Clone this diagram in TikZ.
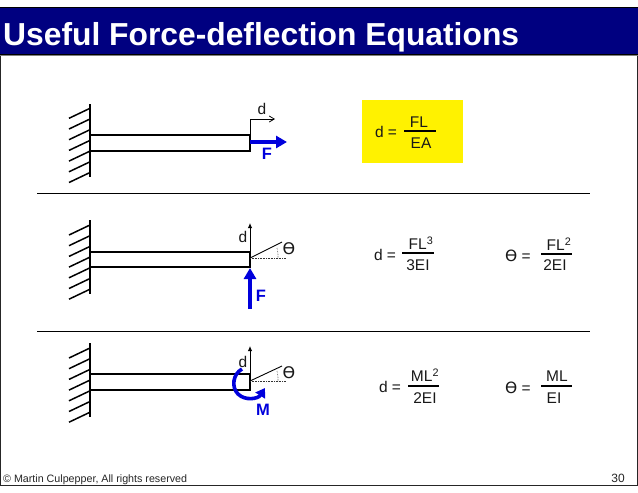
\documentclass[tikz,border=0pt]{standalone}
\usepackage{fontspec}
\setmainfont{Liberation Sans}
\newfontfamily\symfont{DejaVu Sans}
\usetikzlibrary{arrows.meta}
\definecolor{navy}{RGB}{0,0,128}
\definecolor{fblue}{RGB}{0,0,220}
\tikzset{
  x=1pt,y=-1pt,
  beamline/.style={line width=1.4pt,black},
  hatchline/.style={line width=1.5pt,black},
  defl/.style={line width=0.8pt,black,-{Straight Barb[length=5pt,width=6pt]}},
  deflup/.style={line width=0.9pt,black,-{Latex[length=5pt,width=4.5pt]}},
  force/.style={line width=3.2pt,fblue,-{Triangle[length=11pt,width=12pt]}},
  txt/.style={inner sep=0pt,font=\fontsize{15.5}{17}\selectfont,text=black!90},
  thetatxt/.style={inner sep=0pt,font=\fontsize{16}{18}\symfont,text=black!90},
  fl/.style={inner sep=0pt,font=\fontsize{16.5}{18}\selectfont\bfseries,text=fblue},
  ruleline/.style={line width=1pt,black},
  fracline/.style={line width=1.1pt,black},
  angleline/.style={line width=0.9pt,black},
  dots/.style={line width=0.6pt,black!80,densely dotted},
}
\newcommand{\wall}[3]{\draw[hatchline] (#1,#2) -- (#1,#3);}
\newcommand{\hatches}[1]{%
  \foreach \i in {0,...,6}{
    \draw[hatchline] (69,{#1+10.7*\i}) -- (90,{#1+10.7*\i-10});
  }
}
\begin{document}
\begin{tikzpicture}
\useasboundingbox (0,0) rectangle (638,493);
\fill[white] (0,0) rectangle (638,493);
% frame and header
\draw[line width=1pt,black!85] (0.5,56) -- (0.5,485) -- (637.5,485) -- (637.5,56);
\fill[navy] (0,7) rectangle (638,54);
\draw[line width=1pt,black] (0,7.5) -- (638,7.5);
\draw[line width=1pt,black] (0,54) -- (638,54);
\draw[line width=1.2pt,black!50] (0,55.5) -- (638,55.5);
\node[anchor=base west,inner sep=0pt,text=white,font=\fontsize{31.8}{34}\selectfont\bfseries] (title) at (3,45.5) {Useful Force-deflection Equations};
% footer
\node[anchor=base west,inner sep=0pt,font=\fontsize{10.7}{12}\selectfont,text=black!85] (copy) at (3,482) {© Martin Culpepper, All rights reserved};
\node[anchor=base east,inner sep=0pt,font=\fontsize{12}{13}\selectfont,text=black!85] (page) at (625,482) {30};
% separators
\draw[ruleline] (37,193) -- (590,193);
\draw[ruleline] (37,331) -- (590,331);
% row 1
\wall{90}{104}{177}
\hatches{118.3}
\draw[beamline] (90,135) -- (250,135);
\draw[beamline] (90,151) -- (250,151) -- (250,135);
\draw[defl] (250,135) -- (250,119) -- (275,119);
\draw[force] (250,142) -- (287,142);
\node[fl] (f1) at (267,154) {F};
\node[txt] (d1) at (262,109) {d};
% row 2
\wall{90}{220}{294}
\hatches{235}
\draw[beamline] (90,252) -- (250,252);
\draw[beamline] (90,267) -- (250,267) -- (250,252);
\draw[deflup] (250,252) -- (250,223);
\draw[force] (250,309) -- (250,268);
\node[fl] (f2) at (261,296) {F};
\node[txt] (d2) at (243,237) {d};
\draw[angleline] (250,258) -- (282,242);
\draw[dots] (250,258) -- (286,258);
\draw[dots] (277,248) .. controls (278,251) and (278,254) .. (278,258);
\node[thetatxt] (t2) at (289,249) {ϴ};
% row 3
\wall{90}{343}{417}
\hatches{358}
\draw[beamline] (90,374) -- (250,374);
\draw[beamline] (90,390) -- (250,390) -- (250,374);
\draw[deflup] (250,374) -- (250,346);
\draw[angleline] (250,381) -- (282,366);
\draw[dots] (250,381) -- (286,381);
\draw[dots] (277,371) .. controls (278,374) and (278,377) .. (278,381);
\node[thetatxt] (t3) at (289,373) {ϴ};
\node[txt] (d3) at (243,362) {d};
\draw[line width=3.6pt,fblue,-{Triangle[length=9pt,width=11pt]}] (242,369) .. controls (233,374) and (231,387) .. (238,394) .. controls (245,401) and (258,399) .. (265,388);
\node[fl] (m3) at (263,410) {M};
% equations row 1
\fill[yellow] (362,100) rectangle (463,163);
\node[txt] (e1) at (386,132) {d =};
\draw[fracline] (404,131) -- (436,131);
\node[txt] (e1n) at (419,122) {FL};
\node[txt] (e1d) at (421,143) {EA};
% row 2
\node[txt] (e2) at (385,255) {d =};
\draw[fracline] (402,253) -- (434,253);
\node[txt] (e2n) at (421,243) {FL\textsuperscript{3}};
\node[txt] (e2d) at (418,265) {3EI};
\node[txt] (e3) at (518,256) {\symfont ϴ\normalfont{} =};
\draw[fracline] (541,254) -- (572,254);
\node[txt] (e3n) at (559,244) {FL\textsuperscript{2}};
\node[txt] (e3d) at (555,265) {2EI};
% row 3
\node[txt] (e4) at (390,387) {d =};
\draw[fracline] (408,386) -- (439,386);
\node[txt] (e4n) at (425,375) {ML\textsuperscript{2}};
\node[txt] (e4d) at (425,398) {2EI};
\node[txt] (e5) at (518,388) {\symfont ϴ\normalfont{} =};
\draw[fracline] (541,386) -- (572,386);
\node[txt] (e5n) at (557,376) {ML};
\node[txt] (e5d) at (554,398) {EI};
\end{tikzpicture}
\end{document}
